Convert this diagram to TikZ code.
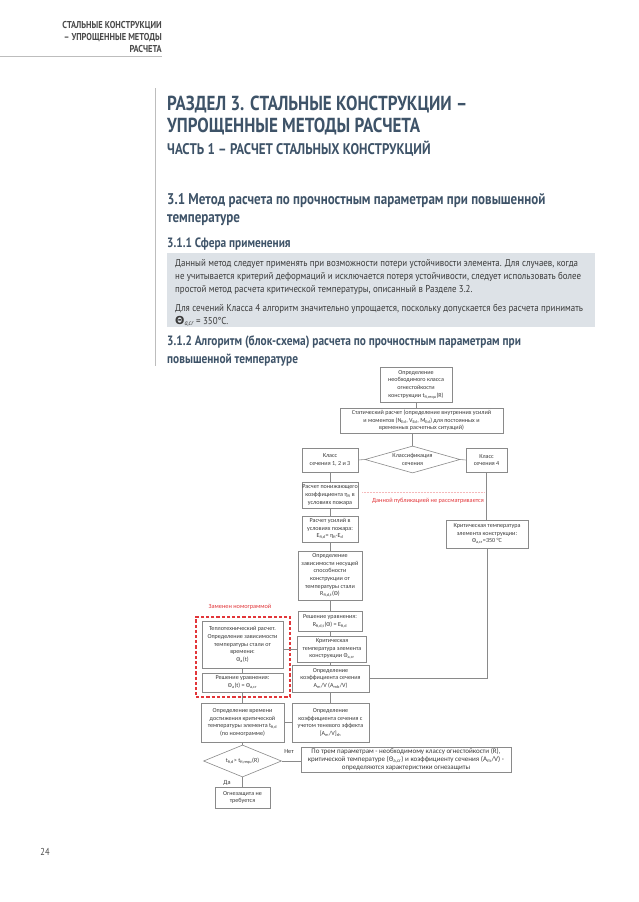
\documentclass[tikz,border=0pt]{standalone}
\usepackage{fontspec}
\setmainfont{PT Sans}
\newfontfamily\hf[FakeStretch=0.84]{PT Sans}
\newfontfamily\bodyf[FakeStretch=0.89]{PT Sans}
\newfontfamily\cf{Carlito}
\newfontfamily\dvf{DejaVu Sans}
\usetikzlibrary{shapes.geometric}
\definecolor{headc}{HTML}{3E5368}
\definecolor{graytxt}{HTML}{4A4A4A}
\definecolor{boxfill}{HTML}{DDE2E7}
\definecolor{boxc}{HTML}{8A8A8A}
\definecolor{txtc}{HTML}{3A3A3A}
\definecolor{redc}{HTML}{E2363A}
\definecolor{rulec}{HTML}{BDBDBD}
\begin{document}
\begin{tikzpicture}[x=1pt,y=-1pt,
  fb/.style={draw=boxc, line width=0.6pt, align=center, inner sep=0pt, text=txtc,
     font=\cf\fontsize{6.1}{7.7}\selectfont},
  fd/.style={fb, diamond},
  conn/.style={draw=boxc, line width=0.6pt},
  lbl/.style={inner sep=0pt, font=\cf\fontsize{6.3}{7.7}\selectfont},
  hd/.style={anchor=base west, inner sep=0pt, text=headc},
  bt/.style={anchor=base west, inner sep=0pt, text=txtc, font=\bodyf\fontsize{10}{12}\selectfont}
]
\useasboundingbox[fill=white] (0,0) rectangle (638,902);

% header
\node[anchor=base east, inner sep=0pt, text=graytxt, align=right, font=\hf\bfseries\fontsize{10}{11.7}\selectfont] (hdr) at (162,52) {СТАЛЬНЫЕ КОНСТРУКЦИИ\\– УПРОЩЕННЫЕ МЕТОДЫ\\РАСЧЕТА};
\coordinate (hl0) at (0,56);
\coordinate (hl1) at (162,56);
\draw[rulec, line width=0.8pt] (hl0) -- (hl1);

% left vertical rule
\coordinate (vl0) at (155,88);
\coordinate (vl1) at (155,366);
\draw[rulec, line width=1pt] (vl0) -- (vl1);

% titles
\node[hd, font=\hf\bfseries\fontsize{20.3}{22}\selectfont] (t1) at (167,110) {РАЗДЕЛ 3. СТАЛЬНЫЕ КОНСТРУКЦИИ –};
\node[hd, font=\hf\bfseries\fontsize{20.3}{22}\selectfont] (t2) at (167,132) {УПРОЩЕННЫЕ МЕТОДЫ РАСЧЕТА};
\node[hd, font=\hf\bfseries\fontsize{15.4}{16}\selectfont] (t3) at (167,154) {ЧАСТЬ 1 – РАСЧЕТ СТАЛЬНЫХ КОНСТРУКЦИЙ};
\node[hd, font=\hf\bfseries\fontsize{15.5}{17}\selectfont] (s1) at (167,204) {3.1 Метод расчета по прочностным параметрам при повышенной};
\node[hd, font=\hf\bfseries\fontsize{15.5}{17}\selectfont] (s1b) at (167,222) {температуре};
\node[hd, font=\hf\bfseries\fontsize{13.5}{15}\selectfont] (s2) at (167,247) {3.1.1 Сфера применения};

% gray box
\fill[boxfill] (167,253) rectangle (595,327);
\node[bt] (p1) at (175,266) {Данный метод следует применять при возможности потери устойчивости элемента. Для случаев, когда};
\node[bt] (p2) at (175,279) {не учитывается критерий деформаций и исключается потеря устойчивости, следует использовать более};
\node[bt] (p3) at (175,292) {простой метод расчета критической температуры, описанный в Разделе 3.2.};
\node[bt] (p4) at (175,311) {Для сечений Класса 4 алгоритм значительно упрощается, поскольку допускается без расчета принимать};
\node[bt] (p5) at (175,324) {{\dvf\bfseries\fontsize{11}{12}\selectfont Θ}\textsubscript{\itshape a,cr} = 350°C.};

\node[hd, font=\hf\bfseries\fontsize{13.5}{15}\selectfont] (s3) at (167,345) {3.1.2 Алгоритм (блок-схема) расчета по прочностным параметрам при};
\node[hd, font=\hf\bfseries\fontsize{13.5}{15}\selectfont] (s3b) at (167,363) {повышенной температуре};

% flowchart nodes
\node[fb, minimum width=72pt, minimum height=35pt] (A) at (416,384.5) {Определение\\необходимого класса\\огнестойкости\\конструкции t\textsubscript{fi,requ}(R)};
\node[fb, minimum width=163pt, minimum height=25pt] (B) at (421.5,420.5) {Статический расчет (определение внутренних усилий\\и моментов (N\textsubscript{Ed}, V\textsubscript{Ed}, M\textsubscript{Ed}) для постоянных и\\временных расчетных ситуаций)};
\node[fd, aspect=3.5, minimum width=95pt, minimum height=27pt] (Dia) at (412.5,459.5) {Классификация\\сечения};
\node[fb, minimum width=56pt, minimum height=24pt] (C) at (330,460) {Класс\\сечения 1, 2 и 3};
\node[fb, minimum width=41pt, minimum height=24pt] (D) at (486.5,460) {Класс\\сечения 4};
\node[fb, minimum width=56pt, minimum height=26pt] (E) at (330,495) {Расчет понижающего\\коэффициента η\textsubscript{fi} в\\условиях пожара};
\node[fb, minimum width=56pt, minimum height=26pt] (F) at (330,529) {Расчет усилий в\\условиях пожара:\\E\textsubscript{fi,d}= η\textsubscript{fi}·E\textsubscript{d}};
\node[fb, minimum width=64pt, minimum height=49pt] (G) at (330,575.5) {Определение\\зависимости несущей\\способности\\конструкции от\\температуры стали\\R\textsubscript{fi,d,t}(Θ)};
\node[fb, minimum width=64pt, minimum height=20pt] (H) at (330,621) {Решение уравнения:\\R\textsubscript{fi,d,t}(Θ) = E\textsubscript{fi,d}};
\node[fb, minimum width=69pt, minimum height=26pt] (I) at (332,649) {Критическая\\температура элемента\\конструкции Θ\textsubscript{a,cr}};
\node[fb, minimum width=77pt, minimum height=27pt] (J) at (330.5,678.5) {Определение\\коэффициента сечения\\A\textsubscript{m}/V (A\textsubscript{mb}/V)};
\node[fb, minimum width=77pt, minimum height=39pt] (K) at (330.5,722.5) {Определение\\коэффициента сечения с\\учетом теневого эффекта\\{[}A\textsubscript{m}/V{]}\textsubscript{sh}};
\node[fb, minimum width=82pt, minimum height=28pt] (L) at (487,534) {Критическая температура\\элемента конструкции:\\Θ\textsubscript{a,cr}=350 °C};
\node[lbl, text=redc] (nr) at (428,500.5) {Данной публикацией не рассматривается};
\coordinate (rd0) at (362,492.5);
\coordinate (rd1) at (484,492.5);
\draw[redc!35, densely dotted, line width=0.5pt] (rd0) -- (rd1);

\node[lbl, text=redc] (zn) at (240,607) {Заменен номограммой};
\node[fb, minimum width=81pt, minimum height=47pt] (T) at (242.5,644.5) {Теплотехнический расчет.\\Определение зависимости\\температуры стали от\\времени:\\Θ\textsubscript{a}(t)};
\node[fb, minimum width=81pt, minimum height=19pt] (S) at (242.5,682.5) {Решение уравнения:\\Θ\textsubscript{a}(t) = Θ\textsubscript{a,cr}};
\node[draw=redc, dashed, dash pattern=on 3.2pt off 2pt, line width=1.5pt, minimum width=94pt, minimum height=80pt, inner sep=0pt] (dash) at (243,657) {};
\node[fb, minimum width=83pt, minimum height=39pt] (V) at (242.5,722.5) {Определение времени\\достижения критической\\температуры элемента t\textsubscript{fi,d}\\(по номограмме)};
\node[fd, aspect=2.44, minimum width=78pt, minimum height=32pt] (D2) at (242.5,761) {t\textsubscript{fi,d}> t\textsubscript{fi,requ}(R)};
\node[fb, minimum width=210pt, minimum height=25pt, font=\cf\fontsize{7}{8}\selectfont] (P) at (406,759.5) {По трем параметрам - необходимому классу огнестойкости (R),\\критической температуре (Θ\textsubscript{a,cr}) и коэффициенту сечения (A\textsubscript{m}/V) -\\определяются характеристики огнезащиты};
\node[fb, minimum width=55pt, minimum height=21pt] (O) at (242.5,797.5) {Огнезащита не\\требуется};
\node[lbl, text=txtc] (net) at (289,751) {Нет};
\node[lbl, text=txtc] (da) at (227,783) {Да};

% connectors
\draw[conn] (A.south) -- (A.south |- B.north);
\draw[conn] (Dia.north) -- (Dia.north |- B.south);
\draw[conn] (Dia.west) -- (C.east);
\draw[conn] (Dia.east) -- (D.west);
\draw[conn] (C.south) -- (C.south |- E.north);
\draw[conn] (E.south) -- (E.south |- F.north);
\draw[conn] (F.south) -- (F.south |- G.north);
\draw[conn] (G.south) -- (G.south |- H.north);
\draw[conn] (H.south) -- (H.south |- I.north);
\draw[conn] (H.south |- I.south) -- (H.south |- J.north);
\draw[conn] (J.south) -- (J.south |- K.north);
\draw[conn] (D.south) -- (D.south |- L.north);
\draw[conn] (L.south) |- (J.east);
\draw[conn] (I.west) -- (I.west -| T.east);
\draw[conn] (T.south) -- (T.south |- S.north);
\draw[conn] (S.south) -- (S.south |- V.north);
\draw[conn] (V.east) -- (K.west);
\draw[conn] (V.south) -- (V.south |- D2.north);
\draw[conn] (D2.east) -- (D2.east -| P.west);
\draw[conn] (D2.south) -- (D2.south |- O.north);

% page number
\node[inner sep=0pt, text=graytxt, font=\hf\fontsize{10}{12}\selectfont] (pg) at (45,852) {24};
\end{tikzpicture}
\end{document}
